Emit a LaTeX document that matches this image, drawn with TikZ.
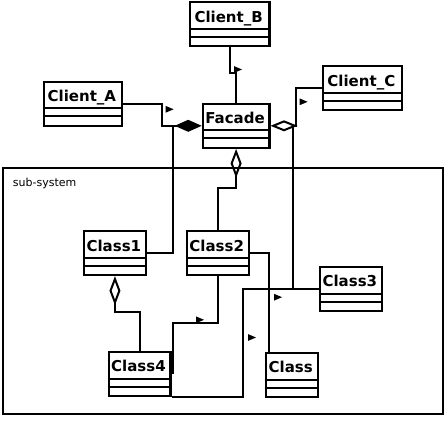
\documentclass[tikz,border=0pt]{standalone}
\usepackage{fontspec}
\setmainfont{DejaVu Sans}
\usetikzlibrary{arrows.meta,calc}
\tikzset{
  cls/.style={draw=black, fill=white, line width=2.2pt, minimum height=44pt, inner sep=0pt, anchor=north west},
  clsname/.style={font=\bfseries\fontsize{15}{17}\selectfont, anchor=base, inner sep=0pt},
  sepline/.style={line width=2.2pt},
  conn/.style={line width=2pt},
  framebox/.style={draw=black, line width=2pt, inner sep=0pt, anchor=north west},
  comp/.style={-{Diamond[length=27pt,width=12pt]}},
  agg/.style={-{Diamond[open,length=27pt,width=11pt]}},
  aggv/.style={-{Diamond[open,length=29pt,width=11pt]}},
}
\newcommand\umlclass[6]{%
  \node[cls, minimum width={(#5-#3)*1pt}] (#1) at (#3,#4) {};
  \node[clsname] (#1-n) at ({(#3+#5)/2},{#4+21}) {#2};
  \draw[sepline] (#3,#4+#6) -- (#5,#4+#6) (#3,#4+#6+8) -- (#5,#4+#6+8);
}
\newcommand\navtri[2]{%
  \fill[black] ({#1-4},{#2-3.4}) -- ({#1+4},{#2}) -- ({#1-4},{#2+3.4}) -- cycle;
}
\begin{document}
\begin{tikzpicture}[x=1pt,y=-1pt]
\useasboundingbox (0,0) rectangle (444,426);
% sub-system frame
\node[framebox, minimum width=439.7pt, minimum height=246pt] (sub) at (2,166.7) {};
\node[anchor=base west, inner sep=0pt, font=\fontsize{11}{13}\selectfont] (subl) at (12.7,186.7) {sub-system};

% classes
\umlclass{ClientB}{Client\_B}{189}{1}{268.3}{28.3}
\umlclass{ClientA}{Client\_A}{42.7}{80.7}{121}{27.3}
\umlclass{Facade}{Facade}{201.7}{102.7}{268.3}{27.3}
\umlclass{ClientC}{Client\_C}{322}{65}{400.7}{27.7}
\umlclass{Class1}{Class1}{83}{230}{144.7}{28}
\umlclass{Class2}{Class2}{185.7}{230}{247.7}{28}
\umlclass{Class3}{Class3}{319}{265.7}{380.7}{28.3}
\umlclass{Class4}{Class4}{107.7}{350.7}{169.3}{28.3}
\umlclass{ClassX}{Class}{264.7}{351.7}{316.7}{28.3}

% connectors
\draw[conn,comp] (ClientA.east) -| (162.3,0 |- Facade.west) -- (Facade.west);
\draw[conn] (Class1.east) -| (173.3,0 |- Facade.west);
\draw[conn] (ClientB.south) -- (ClientB.south |- 0,73.3) -| (Facade.north);
\draw[conn,agg] (ClientC.west) -| (296,0 |- Facade.east) -- (Facade.east);
\draw[conn] (Class3.west) -| (293.3,0 |- Facade.east);
\draw[conn] (Class4.south east) -| (243.3,0 |- Class3.west) -- (Class3.west);
\draw[conn,aggv] (Class2.north) |- (Facade.south |- 0,188.3) -- (Facade.south);
\draw[conn] (Class2.east) -| (269.3,0 |- ClassX.north);
\draw[conn,aggv] (Class4.north) |- (Class1.south |- 0,311.7) -- (Class1.south);
\draw[conn] ($(Class4.east)+(1.4,0)$) |- (Class2.south |- 0,323.3) -- (Class2.south);

% navigation triangles
\navtri{169.6}{109.3}
\navtri{238}{69.5}
\navtri{303.6}{101.8}
\navtri{200}{319.8}
\navtri{252}{337.5}
\navtri{278}{297.2}
\end{tikzpicture}
\end{document}
